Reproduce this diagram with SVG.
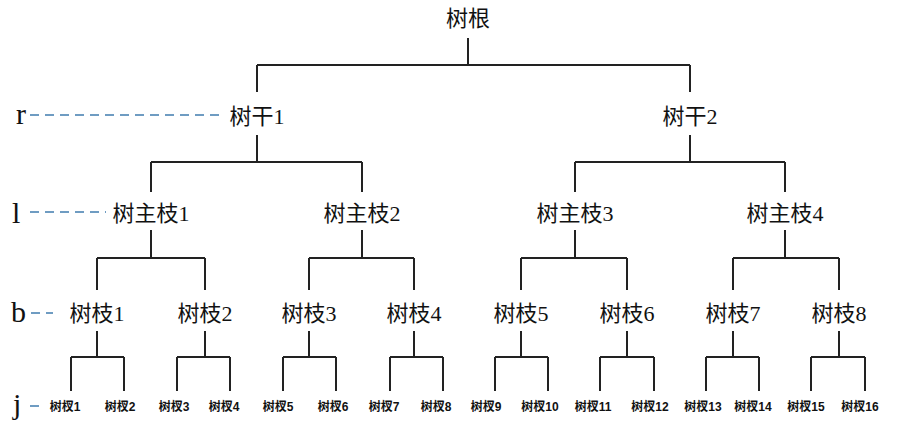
<svg xmlns="http://www.w3.org/2000/svg" width="908" height="434" viewBox="0 0 908 434">
<style>
.n{font-family:"Liberation Serif","Noto Sans CJK SC",serif;font-size:22px;text-anchor:middle;fill:#111}
.s{font-family:"Liberation Sans","Noto Sans CJK SC",sans-serif;font-size:12px;font-weight:bold;text-anchor:middle;fill:#111}
.lv{font-family:"Liberation Serif",serif;font-size:30px;fill:#111}
.c{stroke:#222;stroke-width:2;fill:none}
.d{stroke:#6f9cc2;stroke-width:2;stroke-dasharray:9,6;fill:none}
</style>
<rect width="908" height="434" fill="#fff"/>
<g id="levels">
<text class="lv" x="16" y="124">r</text><path class="d" d="M30 115H220"/>
<text class="lv" x="12" y="223">l</text><path class="d" d="M30 212H106"/>
<text class="lv" x="11" y="322">b</text><path class="d" d="M31 313H53"/>
<text class="lv" x="13" y="414">j</text><path class="d" d="M30 406H39"/>
</g>
<g id="connectors">
<path class="c" d="M468 38V65M257 65H690M257 65V92M690 65V92"/>
<path class="c" d="M257 135V162M151 162H362M151 162V192M362 162V192"/>
<path class="c" d="M690 135V162M575 162H785M575 162V192M785 162V192"/>
<path class="c" d="M151 230V258M97 258H205M97 258V290M205 258V290"/>
<path class="c" d="M362 230V258M309 258H414M309 258V290M414 258V290"/>
<path class="c" d="M575 230V258M521 258H627M521 258V290M627 258V290"/>
<path class="c" d="M785 230V258M733 258H839M733 258V290M839 258V290"/>
<path class="c" d="M97 331V357M71 357H124M71 357V391M124 357V391"/>
<path class="c" d="M205 331V357M177 357H230M177 357V391M230 357V391"/>
<path class="c" d="M309 331V357M283 357H336M283 357V391M336 357V391"/>
<path class="c" d="M414 331V357M390 357H443M390 357V391M443 357V391"/>
<path class="c" d="M521 331V357M495 357H548M495 357V391M548 357V391"/>
<path class="c" d="M627 331V357M600 357H654M600 357V391M654 357V391"/>
<path class="c" d="M733 331V357M706 357H759M706 357V391M759 357V391"/>
<path class="c" d="M839 331V357M811 357H865M811 357V391M865 357V391"/>
</g>
<g id="root"><text class="n" x="468" y="26">树根</text></g>
<g id="t1"><text class="n" x="257" y="124">树干1</text></g>
<g id="t2"><text class="n" x="690" y="124">树干2</text></g>
<g id="m1"><text class="n" x="151" y="221">树主枝1</text></g>
<g id="m2"><text class="n" x="362" y="221">树主枝2</text></g>
<g id="m3"><text class="n" x="575" y="221">树主枝3</text></g>
<g id="m4"><text class="n" x="785" y="221">树主枝4</text></g>
<g id="b1"><text class="n" x="97" y="321">树枝1</text></g>
<g id="b2"><text class="n" x="205" y="321">树枝2</text></g>
<g id="b3"><text class="n" x="309" y="321">树枝3</text></g>
<g id="b4"><text class="n" x="414" y="321">树枝4</text></g>
<g id="b5"><text class="n" x="521" y="321">树枝5</text></g>
<g id="b6"><text class="n" x="627" y="321">树枝6</text></g>
<g id="b7"><text class="n" x="733" y="321">树枝7</text></g>
<g id="b8"><text class="n" x="839" y="321">树枝8</text></g>
<g id="j1"><text class="s" x="65" y="411">树杈1</text></g>
<g id="j2"><text class="s" x="120" y="411">树杈2</text></g>
<g id="j3"><text class="s" x="174" y="411">树杈3</text></g>
<g id="j4"><text class="s" x="224" y="411">树杈4</text></g>
<g id="j5"><text class="s" x="278" y="411">树杈5</text></g>
<g id="j6"><text class="s" x="333" y="411">树杈6</text></g>
<g id="j7"><text class="s" x="384" y="411">树杈7</text></g>
<g id="j8"><text class="s" x="436" y="411">树杈8</text></g>
<g id="j9"><text class="s" x="486" y="411">树杈9</text></g>
<g id="j10"><text class="s" x="540" y="411">树杈10</text></g>
<g id="j11"><text class="s" x="593" y="411">树杈11</text></g>
<g id="j12"><text class="s" x="650" y="411">树杈12</text></g>
<g id="j13"><text class="s" x="703" y="411">树杈13</text></g>
<g id="j14"><text class="s" x="753" y="411">树杈14</text></g>
<g id="j15"><text class="s" x="806" y="411">树杈15</text></g>
<g id="j16"><text class="s" x="860" y="411">树杈16</text></g>
</svg>
